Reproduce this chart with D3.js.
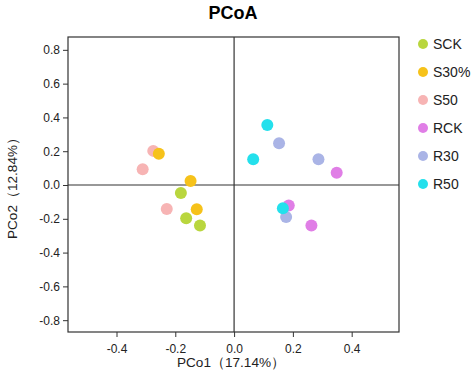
<!DOCTYPE html>
<html>
<head>
<meta charset="utf-8">
<style>body{margin:0;background:#fff;}</style>
<script src="https://cdn.jsdelivr.net/npm/d3@7/dist/d3.min.js"></script>
</head>
<body>
<svg width="474" height="376" font-family="'Liberation Sans', Arial, sans-serif"></svg>
<script>

var groups = ["SCK", "S30%", "S50", "RCK", "R30", "R50"];
var colors = ["#b9d63e", "#f6c21a", "#f7b4b4", "#e07ee6", "#aab4e6", "#24e0ec"];

// PCo1, PCo2 per sample
var samples = [
  {g: "S50",  x: -0.275, y:  0.202},
  {g: "S50",  x: -0.311, y:  0.093},
  {g: "S50",  x: -0.229, y: -0.142},
  {g: "SCK",  x: -0.181, y: -0.047},
  {g: "SCK",  x: -0.163, y: -0.197},
  {g: "SCK",  x: -0.116, y: -0.239},
  {g: "S30%", x: -0.256, y:  0.185},
  {g: "S30%", x: -0.148, y:  0.024},
  {g: "S30%", x: -0.127, y: -0.144},
  {g: "RCK",  x:  0.349, y:  0.073},
  {g: "RCK",  x:  0.186, y: -0.121},
  {g: "RCK",  x:  0.263, y: -0.239},
  {g: "R30",  x:  0.153, y:  0.247},
  {g: "R30",  x:  0.287, y:  0.152},
  {g: "R30",  x:  0.177, y: -0.189},
  {g: "R50",  x:  0.113, y:  0.355},
  {g: "R50",  x:  0.065, y:  0.152},
  {g: "R50",  x:  0.166, y: -0.138}
];

var xTicks = [-0.4, -0.2, 0.0, 0.2, 0.4];
var yTicks = [-0.8, -0.6, -0.4, -0.2, 0.0, 0.2, 0.4, 0.6, 0.8];

var svg = d3.select("svg");
var pLeft = 68, pRight = 399, pTop = 37, pBottom = 332;

var x = d3.scaleLinear().domain([-0.565, 0.561]).range([pLeft, pRight]);
var y = d3.scaleLinear().domain([-0.87, 0.876]).range([pBottom, pTop]);
var color = d3.scaleOrdinal().domain(groups).range(colors);

// plain hyphen for negatives, like the original
var fmt = function(d) { return d.toFixed(1); };

svg.append("text")
    .attr("x", 233).attr("y", 19)
    .attr("text-anchor", "middle")
    .attr("font-size", 18).attr("font-weight", "bold")
    .text("PCoA");

var xAxis = svg.append("g")
    .attr("transform", "translate(0," + pBottom + ")")
    .call(d3.axisBottom(x).tickValues(xTicks).tickFormat(fmt).tickSize(5).tickSizeOuter(0));
var yAxis = svg.append("g")
    .attr("transform", "translate(" + pLeft + ",0)")
    .call(d3.axisLeft(y).tickValues(yTicks).tickFormat(fmt).tickSize(5).tickSizeOuter(0));

[xAxis, yAxis].forEach(function(a) {
  a.select(".domain").remove();
  a.selectAll("line").attr("stroke", "#333");
  a.selectAll("text").attr("font-size", 12).attr("fill", "#222")
      .attr("font-family", "'Liberation Sans', Arial, sans-serif");
});
xAxis.selectAll("text").attr("dy", "1.05em");

svg.append("rect")
    .attr("x", pLeft).attr("y", pTop)
    .attr("width", pRight - pLeft).attr("height", pBottom - pTop)
    .attr("fill", "none").attr("stroke", "#333").attr("stroke-width", 1.2);

svg.append("line")
    .attr("x1", x(0)).attr("x2", x(0)).attr("y1", pTop).attr("y2", pBottom)
    .attr("stroke", "#333").attr("stroke-width", 1.2);
svg.append("line")
    .attr("x1", pLeft).attr("x2", pRight).attr("y1", y(0)).attr("y2", y(0))
    .attr("stroke", "#333").attr("stroke-width", 1.2);

svg.selectAll(".pt")
    .data(samples)
    .enter().append("circle")
      .attr("class", "pt")
      .attr("cx", function(d) { return x(d.x); })
      .attr("cy", function(d) { return y(d.y); })
      .attr("r", 6)
      .attr("fill", function(d) { return color(d.g); });

var legend = svg.selectAll(".leg")
    .data(groups)
    .enter().append("g")
      .attr("class", "leg")
      .attr("transform", function(d, i) { return "translate(423," + (44 + i * 28) + ")"; });
legend.append("circle").attr("r", 5).attr("fill", function(d) { return color(d); });
legend.append("text")
    .attr("x", 10).attr("dy", "0.36em")
    .attr("font-size", 14).attr("fill", "#222")
    .text(function(d) { return d; });

svg.append("text")
    .attr("x", 231).attr("y", 367)
    .attr("text-anchor", "middle").attr("font-size", 13.6).attr("fill", "#222")
    .text("PCo1（17.14%）");

svg.append("text")
    .attr("transform", "translate(17,185) rotate(-90)")
    .attr("text-anchor", "middle").attr("font-size", 13.6).attr("fill", "#222")
    .text("PCo2（12.84%）");

</script>
</body>
</html>
